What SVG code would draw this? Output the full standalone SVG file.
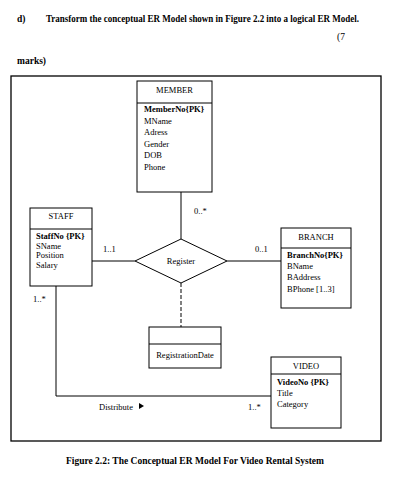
<svg xmlns="http://www.w3.org/2000/svg" width="413" height="502" viewBox="0 0 413 502">
<style>
text{font-family:"Liberation Serif","Times New Roman",serif;fill:#000}
.t{font-size:8.5px}
.b{font-weight:bold}
.box{fill:#fff;stroke:#000;stroke-width:1}
.ln{fill:none;stroke:#000;stroke-width:1}
.hd{font-size:9.5px;font-weight:bold}
</style>
<rect width="413" height="502" fill="#fff"/>
<text class="hd" x="17" y="22">d)</text>
<text class="hd" x="46" y="22" textLength="313" lengthAdjust="spacingAndGlyphs">Transform the conceptual ER Model shown in Figure 2.2 into a logical ER Model.</text>
<text class="hd" x="337" y="40" style="font-weight:normal">(7</text>
<text class="hd" x="17" y="64">marks)</text>
<rect x="11" y="76" width="370" height="365" fill="none" stroke="#000" stroke-width="1.3"/>
<g id="connectors">
<line class="ln" x1="181" y1="192" x2="181" y2="239"/>
<line class="ln" x1="92" y1="261" x2="135" y2="261"/>
<line class="ln" x1="227" y1="261" x2="281" y2="261"/>
<line class="ln" x1="181" y1="283" x2="181" y2="327" stroke-dasharray="4,2"/>
<polyline class="ln" points="56,286 56,396 271,396"/>
<text class="t" x="194" y="214">0..*</text>
<text class="t" x="103" y="252">1..1</text>
<text class="t" x="255" y="252">0..1</text>
<text class="t" x="33" y="302">1..*</text>
<text class="t" x="99" y="410">Distribute</text>
<polygon points="139,403 139,409 144,406" fill="#000"/>
<text class="t" x="248" y="410">1..*</text>
</g>
<g id="member">
<rect class="box" x="137" y="81" width="75" height="111"/>
<line class="ln" x1="137" y1="103" x2="212" y2="103"/>
<text class="t" x="174.5" y="93" text-anchor="middle">MEMBER</text>
<text class="t b" x="144" y="112">MemberNo{PK}</text>
<text class="t" x="144" y="123.5">MName</text>
<text class="t" x="144" y="135">Adress</text>
<text class="t" x="144" y="146.5">Gender</text>
<text class="t" x="144" y="158">DOB</text>
<text class="t" x="144" y="169.5">Phone</text>
</g>
<g id="staff">
<rect class="box" x="30" y="208" width="62" height="78"/>
<line class="ln" x1="30" y1="229" x2="92" y2="229"/>
<text class="t" x="61" y="219" text-anchor="middle">STAFF</text>
<text class="t b" x="36" y="239">StaffNo {PK}</text>
<text class="t" x="36" y="248.5">SName</text>
<text class="t" x="36" y="258">Position</text>
<text class="t" x="36" y="267.5">Salary</text>
</g>
<g id="register">
<polygon class="box" points="181,239 227,261 181,283 135,261"/>
<text class="t" x="181" y="264" text-anchor="middle">Register</text>
</g>
<g id="branch">
<rect class="box" x="281" y="228" width="70" height="80"/>
<line class="ln" x1="281" y1="248" x2="351" y2="248"/>
<text class="t" x="316" y="240" text-anchor="middle">BRANCH</text>
<text class="t b" x="287" y="258">BranchNo{PK}</text>
<text class="t" x="287" y="269">BName</text>
<text class="t" x="287" y="280">BAddress</text>
<text class="t" x="287" y="291.5">BPhone [1..3]</text>
</g>
<g id="registrationdate">
<rect class="box" x="149" y="327" width="72" height="41"/>
<line class="ln" x1="149" y1="344" x2="221" y2="344"/>
<text class="t" x="185" y="358" text-anchor="middle">RegistrationDate</text>
</g>
<g id="video">
<rect class="box" x="271" y="357" width="70" height="71"/>
<line class="ln" x1="271" y1="374" x2="341" y2="374"/>
<text class="t" x="306" y="369" text-anchor="middle">VIDEO</text>
<text class="t b" x="277" y="385">VideoNo {PK}</text>
<text class="t" x="277" y="396">Title</text>
<text class="t" x="277" y="407">Category</text>
</g>
<text x="195" y="464" text-anchor="middle" style="font-size:9.5px;font-weight:bold" textLength="258" lengthAdjust="spacingAndGlyphs">Figure 2.2: The Conceptual ER Model For Video Rental System</text>
</svg>
